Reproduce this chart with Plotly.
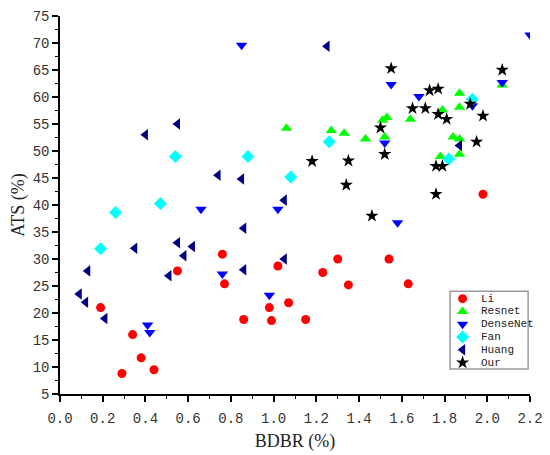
"""Scatter of ATS against BDBR for six fast-coding methods."""

import plotly.graph_objects as go

series_names = ["Li", "Resnet", "DenseNet", "Fan", "Huang", "Our"]

li_bdbr = [0.19, 0.29, 0.34, 0.38, 0.44, 0.55, 0.76, 0.77, 0.86, 0.98,
           0.99, 1.02, 1.07, 1.15, 1.23, 1.30, 1.35, 1.54, 1.63, 1.98]
li_ats = [21.0, 8.8, 16.0, 11.7, 9.5, 27.8, 30.9, 25.4, 18.8, 21.0,
          18.6, 28.7, 21.9, 18.8, 27.5, 30.0, 25.2, 30.0, 25.4, 42.0]

resnet_bdbr = [1.06, 1.27, 1.33, 1.43, 1.51, 1.53, 1.52, 1.64,
               1.79, 1.87, 1.87, 1.84, 1.87, 1.87, 1.78, 2.07]
resnet_ats = [54.2, 53.8, 53.3, 52.2, 55.7, 56.2, 52.6, 55.9,
              57.6, 60.7, 58.1, 52.6, 52.2, 49.4, 49.0, 62.2]

densenet_bdbr = [0.41, 0.42, 0.66, 0.76, 0.85, 0.98, 1.02, 1.52,
                 1.55, 1.58, 1.68, 1.93, 2.07, 2.20]
densenet_ats = [17.8, 16.4, 39.2, 27.2, 69.6, 23.3, 39.2, 51.5,
                62.3, 36.7, 60.1, 58.4, 62.7, 71.5]

fan_bdbr = [0.19, 0.26, 0.47, 0.54, 0.88, 1.08, 1.26, 1.82, 1.93]
fan_ats = [31.9, 38.6, 40.3, 49.0, 49.0, 45.2, 51.7, 48.5, 59.6]

huang_bdbr = [0.09, 0.12, 0.13, 0.21, 0.35, 0.40, 0.51, 0.55, 0.55, 0.58,
              0.62, 0.74, 0.85, 0.86, 0.86, 1.05, 1.05, 1.25, 1.87]
huang_ats = [23.5, 22.0, 27.8, 19.0, 32.0, 53.0, 26.9, 55.0, 33.0, 30.6,
             32.3, 45.5, 44.8, 35.7, 28.0, 30.0, 40.9, 69.4, 51.0]

our_bdbr = [1.55, 2.07, 1.73, 1.77, 1.65, 1.71, 1.77, 1.81, 1.92, 1.98,
            1.50, 1.52, 1.95, 1.18, 1.35, 1.34, 1.76, 1.79, 1.76, 1.46]
our_ats = [65.3, 65.0, 61.2, 61.5, 57.9, 57.9, 56.8, 55.9, 58.7, 56.5,
           54.3, 49.4, 51.7, 48.1, 48.2, 43.7, 47.2, 47.2, 42.0, 38.0]

xs = [li_bdbr, resnet_bdbr, densenet_bdbr, fan_bdbr, huang_bdbr, our_bdbr]
ys = [li_ats, resnet_ats, densenet_ats, fan_ats, huang_ats, our_ats]

symbols = ["circle", "triangle-up", "triangle-down", "diamond", "triangle-left", "star"]
colors = ["#FF0000", "#00FF00", "#0000FF", "#00FFFF", "#000080", "#000000"]
sizes = [9, 10, 10, 10, 10, 10]

fig = go.Figure()

for name, x, y, sym, col, sz in zip(series_names, xs, ys, symbols, colors, sizes):
    fig.add_trace(
        go.Scatter(
            x=x,
            y=y,
            mode="markers",
            name=name,
            showlegend=False,
            marker=dict(symbol=sym, color=col, size=sz, opacity=1, line=dict(width=0)),
        )
    )

# compact legend drawn on a small inset axis (plotly's own legend rows are too tall)
row_y = [7.5 + 12.8 * i for i in range(len(series_names))]
fig.add_trace(
    go.Scatter(
        x=[12.5] * len(series_names),
        y=row_y,
        mode="markers",
        xaxis="x2",
        yaxis="y2",
        showlegend=False,
        hoverinfo="skip",
        marker=dict(symbol=symbols, color=colors, size=sizes, opacity=1, line=dict(width=0)),
    )
)
for name, ry in zip(series_names, row_y):
    fig.add_annotation(
        x=29,
        y=ry,
        xref="x2",
        yref="y2",
        text=name,
        showarrow=False,
        xanchor="left",
        yanchor="middle",
        font=dict(family="Liberation Mono", size=11, color="#222222"),
    )

fig.add_shape(
    type="rect",
    xref="x2 domain",
    yref="y2 domain",
    x0=0,
    x1=1,
    y0=0,
    y1=1,
    line=dict(color="#9a9a9a", width=1.5),
)

tick_font = dict(family="Liberation Mono", size=14, color="#333333")
title_font = dict(family="Liberation Serif", size=18, color="#222222")

# the page body adds an 8px offset, so margins are shifted by that much
fig.update_layout(
    width=550,
    height=455,
    margin=dict(l=52, r=28, t=8, b=69),
    plot_bgcolor="white",
    paper_bgcolor="white",
    xaxis=dict(
        range=[0, 2.2],
        dtick=0.2,
        tick0=0,
        tickformat=".1f",
        ticks="outside",
        ticklen=6,
        tickwidth=1.5,
        tickcolor="black",
        showline=True,
        linecolor="black",
        linewidth=1.5,
        showgrid=False,
        zeroline=False,
        automargin=False,
        tickfont=tick_font,
        ticklabelstandoff=4,
        minor=dict(dtick=0.1, ticks="outside", ticklen=3, tickwidth=1.2, tickcolor="black"),
        title=dict(text="BDBR (%)", font=title_font, standoff=9),
    ),
    yaxis=dict(
        range=[5, 75],
        dtick=5,
        tick0=0,
        ticks="outside",
        ticklen=6,
        tickwidth=1.5,
        tickcolor="black",
        showline=True,
        linecolor="black",
        linewidth=1.5,
        showgrid=False,
        zeroline=False,
        automargin=False,
        tickfont=tick_font,
        minor=dict(dtick=2.5, ticks="outside", ticklen=3, tickwidth=1.2, tickcolor="black"),
        title=dict(text="ATS (%)", font=title_font, standoff=8),
    ),
    xaxis2=dict(
        domain=[0.830, 0.996],
        range=[0, 78],
        anchor="y2",
        visible=False,
        fixedrange=True,
    ),
    yaxis2=dict(
        domain=[0.066, 0.272],
        range=[78, 0],
        anchor="x2",
        visible=False,
        fixedrange=True,
    ),
)

fig.write_html("out.html")
